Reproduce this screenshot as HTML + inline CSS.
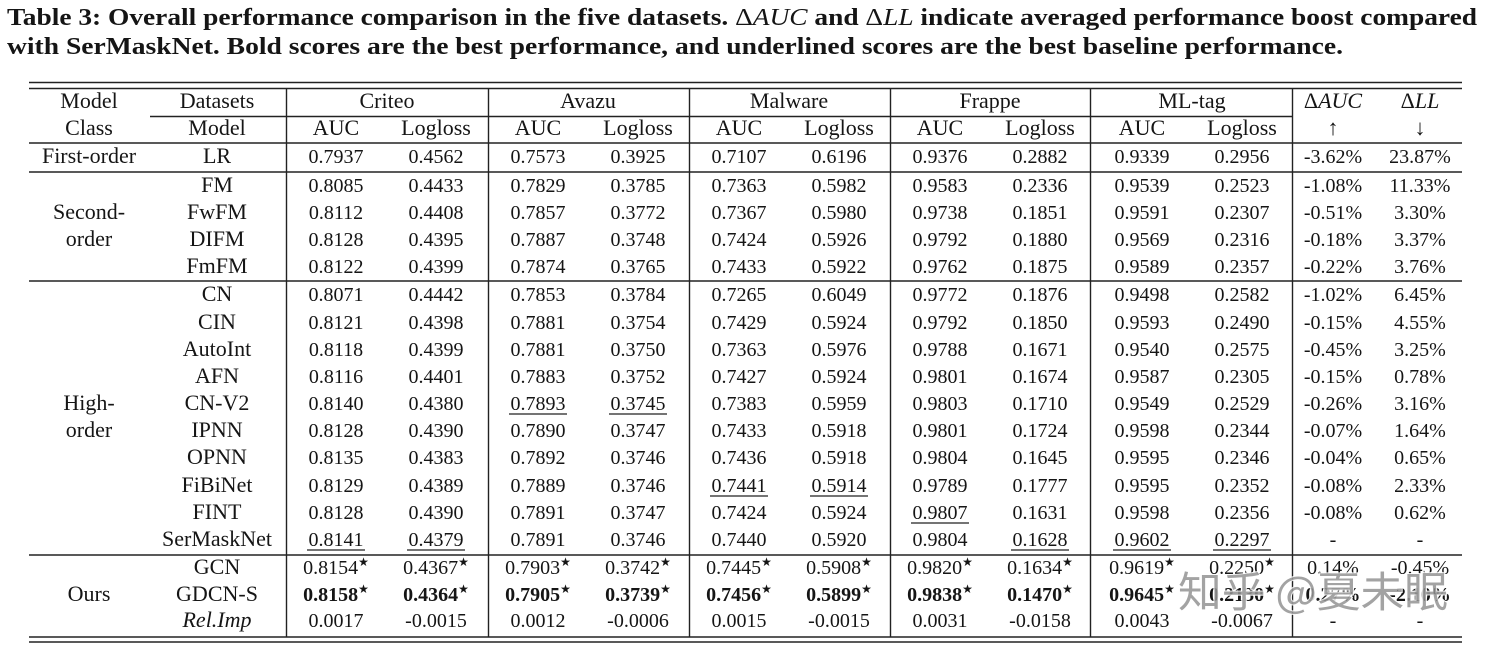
<!DOCTYPE html>
<html><head><meta charset="utf-8"><style>
html,body{margin:0;padding:0;background:#fff;}
svg{display:block;}
text{font-family:"Liberation Serif","DejaVu Serif",serif;fill:#151515;}
.c{font-size:20px;text-anchor:middle;}
.l{font-size:22px;}
.s{font-family:"DejaVu Sans",sans-serif;font-size:12px;}
.b{font-weight:bold;}
.i{font-style:italic;}
</style></head><body>
<svg width="1485" height="650" viewBox="0 0 1485 650" xmlns="http://www.w3.org/2000/svg">
<rect width="1485" height="650" fill="#fff"/>
<text x="7" y="25" font-size="24.5" font-weight="bold" textLength="1470" lengthAdjust="spacingAndGlyphs">Table 3: Overall performance comparison in the five datasets. <tspan font-weight="normal">Δ</tspan><tspan font-weight="normal" font-style="italic">AUC</tspan> and <tspan font-weight="normal">Δ</tspan><tspan font-weight="normal" font-style="italic">LL</tspan> indicate averaged performance boost compared</text>
<text x="7" y="54" font-size="24.5" font-weight="bold" textLength="1336" lengthAdjust="spacingAndGlyphs">with SerMaskNet. Bold scores are the best performance, and underlined scores are the best baseline performance.</text>

<g stroke="#222" stroke-width="1.4">
<line x1="29" y1="82.5" x2="1462" y2="82.5"/>
<line x1="29" y1="88.5" x2="1462" y2="88.5"/>
<line x1="150" y1="116.5" x2="1292" y2="116.5"/>
<line x1="29" y1="143" x2="1462" y2="143"/>
<line x1="29" y1="172" x2="1462" y2="172"/>
<line x1="29" y1="281" x2="1462" y2="281"/>
<line x1="29" y1="555" x2="1462" y2="555"/>
<line x1="29" y1="637" x2="1462" y2="637"/>
<line x1="29" y1="642" x2="1462" y2="642"/>
<line x1="286.5" y1="88.5" x2="286.5" y2="637"/>
<line x1="488.5" y1="88.5" x2="488.5" y2="637"/>
<line x1="689.5" y1="88.5" x2="689.5" y2="637"/>
<line x1="890.5" y1="88.5" x2="890.5" y2="637"/>
<line x1="1090.5" y1="88.5" x2="1090.5" y2="637"/>
<line x1="1292.5" y1="88.5" x2="1292.5" y2="637"/>
</g>

<!-- underlines -->
<g stroke="#222" stroke-width="1.3">
<line x1="509" y1="414" x2="567" y2="414"/>
<line x1="609" y1="414" x2="667" y2="414"/>
<line x1="710" y1="496" x2="768" y2="496"/>
<line x1="810" y1="496" x2="868" y2="496"/>
<line x1="911" y1="523" x2="969" y2="523"/>
<line x1="307" y1="550" x2="365" y2="550"/>
<line x1="407" y1="550" x2="465" y2="550"/>
<line x1="1011" y1="550" x2="1069" y2="550"/>
<line x1="1113" y1="550" x2="1171" y2="550"/>
<line x1="1213" y1="550" x2="1271" y2="550"/>
</g>

<g class="c">
<!-- header -->
<g class="l">
<text x="89" y="108">Model</text>
<text x="217" y="108">Datasets</text>
<text x="387" y="108">Criteo</text>
<text x="588" y="108">Avazu</text>
<text x="789" y="108">Malware</text>
<text x="990" y="108">Frappe</text>
<text x="1192" y="108">ML-tag</text>
<text x="1333" y="108">Δ<tspan class="i">AUC</tspan></text>
<text x="1420" y="108">Δ<tspan class="i">LL</tspan></text>
<text x="89" y="135">Class</text>
<text x="217" y="135">Model</text>
<text x="336" y="135">AUC</text><text x="436" y="135">Logloss</text>
<text x="538" y="135">AUC</text><text x="638" y="135">Logloss</text>
<text x="739" y="135">AUC</text><text x="839" y="135">Logloss</text>
<text x="940" y="135">AUC</text><text x="1040" y="135">Logloss</text>
<text x="1142" y="135">AUC</text><text x="1242" y="135">Logloss</text>
<text x="1333" y="135">↑</text><text x="1420" y="135">↓</text>

<!-- class labels -->
<text x="89" y="163">First-order</text>
<text x="89" y="219">Second-</text>
<text x="89" y="246">order</text>
<text x="89" y="410">High-</text>
<text x="89" y="437">order</text>
<text x="89" y="601">Ours</text>

<!-- model names -->
<text x="217" y="163">LR</text>
<text x="217" y="192">FM</text>
<text x="217" y="219">FwFM</text>
<text x="217" y="246">DIFM</text>
<text x="217" y="273">FmFM</text>
<text x="217" y="301">CN</text>
<text x="217" y="329">CIN</text>
<text x="217" y="356">AutoInt</text>
<text x="217" y="383">AFN</text>
<text x="217" y="410">CN-V2</text>
<text x="217" y="437">IPNN</text>
<text x="217" y="464">OPNN</text>
<text x="217" y="492">FiBiNet</text>
<text x="217" y="519">FINT</text>
<text x="217" y="546">SerMaskNet</text>
<text x="217" y="574">GCN</text>
<text x="217" y="601">GDCN-S</text>
<text x="217" y="627" class="i">Rel.Imp</text>
</g>

<!-- LR -->
<text x="336" y="163">0.7937</text><text x="436" y="163">0.4562</text><text x="538" y="163">0.7573</text><text x="638" y="163">0.3925</text><text x="739" y="163">0.7107</text><text x="839" y="163">0.6196</text><text x="940" y="163">0.9376</text><text x="1040" y="163">0.2882</text><text x="1142" y="163">0.9339</text><text x="1242" y="163">0.2956</text><text x="1333" y="163">-3.62%</text><text x="1420" y="163">23.87%</text>
<!-- FM -->
<text x="336" y="192">0.8085</text><text x="436" y="192">0.4433</text><text x="538" y="192">0.7829</text><text x="638" y="192">0.3785</text><text x="739" y="192">0.7363</text><text x="839" y="192">0.5982</text><text x="940" y="192">0.9583</text><text x="1040" y="192">0.2336</text><text x="1142" y="192">0.9539</text><text x="1242" y="192">0.2523</text><text x="1333" y="192">-1.08%</text><text x="1420" y="192">11.33%</text>
<!-- FwFM -->
<text x="336" y="219">0.8112</text><text x="436" y="219">0.4408</text><text x="538" y="219">0.7857</text><text x="638" y="219">0.3772</text><text x="739" y="219">0.7367</text><text x="839" y="219">0.5980</text><text x="940" y="219">0.9738</text><text x="1040" y="219">0.1851</text><text x="1142" y="219">0.9591</text><text x="1242" y="219">0.2307</text><text x="1333" y="219">-0.51%</text><text x="1420" y="219">3.30%</text>
<!-- DIFM -->
<text x="336" y="246">0.8128</text><text x="436" y="246">0.4395</text><text x="538" y="246">0.7887</text><text x="638" y="246">0.3748</text><text x="739" y="246">0.7424</text><text x="839" y="246">0.5926</text><text x="940" y="246">0.9792</text><text x="1040" y="246">0.1880</text><text x="1142" y="246">0.9569</text><text x="1242" y="246">0.2316</text><text x="1333" y="246">-0.18%</text><text x="1420" y="246">3.37%</text>
<!-- FmFM -->
<text x="336" y="273">0.8122</text><text x="436" y="273">0.4399</text><text x="538" y="273">0.7874</text><text x="638" y="273">0.3765</text><text x="739" y="273">0.7433</text><text x="839" y="273">0.5922</text><text x="940" y="273">0.9762</text><text x="1040" y="273">0.1875</text><text x="1142" y="273">0.9589</text><text x="1242" y="273">0.2357</text><text x="1333" y="273">-0.22%</text><text x="1420" y="273">3.76%</text>
<!-- CN -->
<text x="336" y="301">0.8071</text><text x="436" y="301">0.4442</text><text x="538" y="301">0.7853</text><text x="638" y="301">0.3784</text><text x="739" y="301">0.7265</text><text x="839" y="301">0.6049</text><text x="940" y="301">0.9772</text><text x="1040" y="301">0.1876</text><text x="1142" y="301">0.9498</text><text x="1242" y="301">0.2582</text><text x="1333" y="301">-1.02%</text><text x="1420" y="301">6.45%</text>
<!-- CIN -->
<text x="336" y="329">0.8121</text><text x="436" y="329">0.4398</text><text x="538" y="329">0.7881</text><text x="638" y="329">0.3754</text><text x="739" y="329">0.7429</text><text x="839" y="329">0.5924</text><text x="940" y="329">0.9792</text><text x="1040" y="329">0.1850</text><text x="1142" y="329">0.9593</text><text x="1242" y="329">0.2490</text><text x="1333" y="329">-0.15%</text><text x="1420" y="329">4.55%</text>
<!-- AutoInt -->
<text x="336" y="356">0.8118</text><text x="436" y="356">0.4399</text><text x="538" y="356">0.7881</text><text x="638" y="356">0.3750</text><text x="739" y="356">0.7363</text><text x="839" y="356">0.5976</text><text x="940" y="356">0.9788</text><text x="1040" y="356">0.1671</text><text x="1142" y="356">0.9540</text><text x="1242" y="356">0.2575</text><text x="1333" y="356">-0.45%</text><text x="1420" y="356">3.25%</text>
<!-- AFN -->
<text x="336" y="383">0.8116</text><text x="436" y="383">0.4401</text><text x="538" y="383">0.7883</text><text x="638" y="383">0.3752</text><text x="739" y="383">0.7427</text><text x="839" y="383">0.5924</text><text x="940" y="383">0.9801</text><text x="1040" y="383">0.1674</text><text x="1142" y="383">0.9587</text><text x="1242" y="383">0.2305</text><text x="1333" y="383">-0.15%</text><text x="1420" y="383">0.78%</text>
<!-- CN-V2 -->
<text x="336" y="410">0.8140</text><text x="436" y="410">0.4380</text><text x="538" y="410">0.7893</text><text x="638" y="410">0.3745</text><text x="739" y="410">0.7383</text><text x="839" y="410">0.5959</text><text x="940" y="410">0.9803</text><text x="1040" y="410">0.1710</text><text x="1142" y="410">0.9549</text><text x="1242" y="410">0.2529</text><text x="1333" y="410">-0.26%</text><text x="1420" y="410">3.16%</text>
<!-- IPNN -->
<text x="336" y="437">0.8128</text><text x="436" y="437">0.4390</text><text x="538" y="437">0.7890</text><text x="638" y="437">0.3747</text><text x="739" y="437">0.7433</text><text x="839" y="437">0.5918</text><text x="940" y="437">0.9801</text><text x="1040" y="437">0.1724</text><text x="1142" y="437">0.9598</text><text x="1242" y="437">0.2344</text><text x="1333" y="437">-0.07%</text><text x="1420" y="437">1.64%</text>
<!-- OPNN -->
<text x="336" y="464">0.8135</text><text x="436" y="464">0.4383</text><text x="538" y="464">0.7892</text><text x="638" y="464">0.3746</text><text x="739" y="464">0.7436</text><text x="839" y="464">0.5918</text><text x="940" y="464">0.9804</text><text x="1040" y="464">0.1645</text><text x="1142" y="464">0.9595</text><text x="1242" y="464">0.2346</text><text x="1333" y="464">-0.04%</text><text x="1420" y="464">0.65%</text>
<!-- FiBiNet -->
<text x="336" y="492">0.8129</text><text x="436" y="492">0.4389</text><text x="538" y="492">0.7889</text><text x="638" y="492">0.3746</text><text x="739" y="492">0.7441</text><text x="839" y="492">0.5914</text><text x="940" y="492">0.9789</text><text x="1040" y="492">0.1777</text><text x="1142" y="492">0.9595</text><text x="1242" y="492">0.2352</text><text x="1333" y="492">-0.08%</text><text x="1420" y="492">2.33%</text>
<!-- FINT -->
<text x="336" y="519">0.8128</text><text x="436" y="519">0.4390</text><text x="538" y="519">0.7891</text><text x="638" y="519">0.3747</text><text x="739" y="519">0.7424</text><text x="839" y="519">0.5924</text><text x="940" y="519">0.9807</text><text x="1040" y="519">0.1631</text><text x="1142" y="519">0.9598</text><text x="1242" y="519">0.2356</text><text x="1333" y="519">-0.08%</text><text x="1420" y="519">0.62%</text>
<!-- SerMaskNet -->
<text x="336" y="546">0.8141</text><text x="436" y="546">0.4379</text><text x="538" y="546">0.7891</text><text x="638" y="546">0.3746</text><text x="739" y="546">0.7440</text><text x="839" y="546">0.5920</text><text x="940" y="546">0.9804</text><text x="1040" y="546">0.1628</text><text x="1142" y="546">0.9602</text><text x="1242" y="546">0.2297</text><text x="1333" y="546">-</text><text x="1420" y="546">-</text>
<!-- GCN -->
<text x="336" y="574">0.8154<tspan class="s" dy="-8">★</tspan></text><text x="436" y="574">0.4367<tspan class="s" dy="-8">★</tspan></text><text x="538" y="574">0.7903<tspan class="s" dy="-8">★</tspan></text><text x="638" y="574">0.3742<tspan class="s" dy="-8">★</tspan></text><text x="739" y="574">0.7445<tspan class="s" dy="-8">★</tspan></text><text x="839" y="574">0.5908<tspan class="s" dy="-8">★</tspan></text><text x="940" y="574">0.9820<tspan class="s" dy="-8">★</tspan></text><text x="1040" y="574">0.1634<tspan class="s" dy="-8">★</tspan></text><text x="1142" y="574">0.9619<tspan class="s" dy="-8">★</tspan></text><text x="1242" y="574">0.2250<tspan class="s" dy="-8">★</tspan></text><text x="1333" y="574">0.14%</text><text x="1420" y="574">-0.45%</text>
<!-- GDCN-S -->
<g class="b">
<text x="336" y="601">0.8158<tspan class="s" dy="-8">★</tspan></text><text x="436" y="601">0.4364<tspan class="s" dy="-8">★</tspan></text><text x="538" y="601">0.7905<tspan class="s" dy="-8">★</tspan></text><text x="638" y="601">0.3739<tspan class="s" dy="-8">★</tspan></text><text x="739" y="601">0.7456<tspan class="s" dy="-8">★</tspan></text><text x="839" y="601">0.5899<tspan class="s" dy="-8">★</tspan></text><text x="940" y="601">0.9838<tspan class="s" dy="-8">★</tspan></text><text x="1040" y="601">0.1470<tspan class="s" dy="-8">★</tspan></text><text x="1142" y="601">0.9645<tspan class="s" dy="-8">★</tspan></text><text x="1242" y="601">0.2130<tspan class="s" dy="-8">★</tspan></text><text x="1333" y="601">0.27%</text><text x="1420" y="601">-2.10%</text>
</g>
<!-- Rel.Imp -->
<text x="336" y="627">0.0017</text><text x="436" y="627">-0.0015</text><text x="538" y="627">0.0012</text><text x="638" y="627">-0.0006</text><text x="739" y="627">0.0015</text><text x="839" y="627">-0.0015</text><text x="940" y="627">0.0031</text><text x="1040" y="627">-0.0158</text><text x="1142" y="627">0.0043</text><text x="1242" y="627">-0.0067</text><text x="1333" y="627">-</text><text x="1420" y="627">-</text>
</g>

<!-- watermark -->
<text x="1178" y="607" font-size="42" textLength="270" lengthAdjust="spacingAndGlyphs" style="font-family:'Noto Sans CJK SC','WenQuanYi Zen Hei',sans-serif;fill:rgba(140,140,140,0.8);stroke:rgba(255,255,255,0.85);stroke-width:2;paint-order:stroke;">知乎 @夏未眠</text>
</svg>
</body></html>
